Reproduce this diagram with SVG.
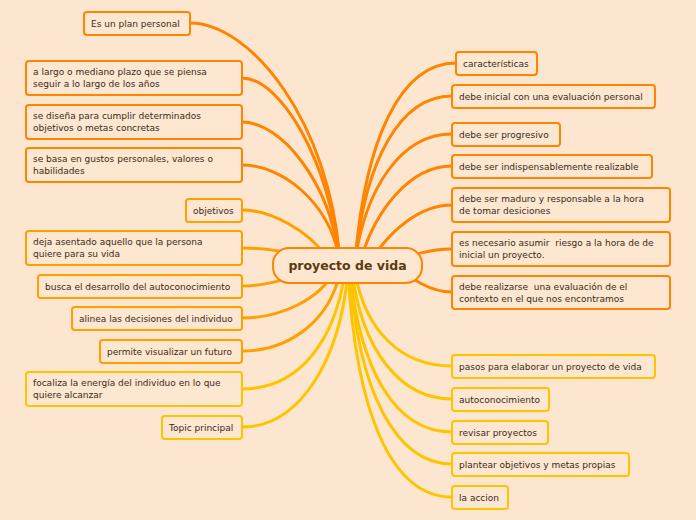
<svg xmlns="http://www.w3.org/2000/svg" width="696" height="520" viewBox="0 0 696 520">
<style>
text{font-family:"DejaVu Sans",Verdana,sans-serif;font-size:9px;fill:#3a2a1a}
.b{fill:#fde7d0;stroke-width:2}
.o{stroke:#ff8400}.m{stroke:#ffa000}.y{stroke:#ffc400}
path{fill:none;stroke-linecap:round}
</style>
<rect width="696" height="520" fill="#fde6cf"/>
<g id="connectors" stroke-width="3">
<path class="o" d="M190,23 C250,23 330,120 340,262"/>
<path class="o" d="M242,78 C280,78 330,160 340,262"/>
<path class="o" d="M242,122 C280,122 330,180 340,262"/>
<path class="o" d="M242,165 C280,165 330,200 340,262"/>
<path class="m" d="M242,210 C270,210 310,230 330,262"/>
<path class="m" d="M242,248 C270,248 300,255 320,262"/>
<path class="m" d="M242,286 C270,286 300,275 320,268"/>
<path class="m" d="M242,318 C280,318 320,300 335,270"/>
<path class="m" d="M242,351 C290,351 330,320 340,272"/>
<path class="y" d="M242,389 C300,389 335,340 345,272"/>
<path class="y" d="M242,427 C300,427 340,360 348,272"/>
<path class="o" d="M456,63 C400,63 365,140 355,262"/>
<path class="o" d="M452,96 C400,96 365,160 355,262"/>
<path class="o" d="M452,134 C400,134 365,190 355,262"/>
<path class="o" d="M452,166 C410,166 375,210 360,262"/>
<path class="o" d="M452,205 C420,205 390,230 370,262"/>
<path class="o" d="M452,249 C430,249 410,255 400,262"/>
<path class="o" d="M452,292 C430,292 410,278 400,268"/>
<path class="y" d="M452,366 C400,366 365,330 355,272"/>
<path class="y" d="M452,399 C400,399 362,350 352,272"/>
<path class="y" d="M452,432 C395,432 360,370 350,272"/>
<path class="y" d="M452,464 C395,464 358,390 350,272"/>
<path class="y" d="M452,497 C390,497 356,410 348,272"/>
</g>
<g id="center"><rect x="273" y="248" width="149" height="35" rx="16" fill="#fde7d0" stroke="#ff8400" stroke-width="2"/><text x="347.5" y="270" text-anchor="middle" style="font-size:12.5px;font-weight:bold;fill:#5a3a10">proyecto de vida</text></g>
<g id="l1"><rect class="b o" x="84" y="12" width="106" height="23" rx="3"/><text x="91" y="27">Es un plan personal</text></g>
<g id="l2"><rect class="b o" x="26" y="61" width="216" height="34" rx="3"/><text x="33" y="75">a largo o mediano plazo que se piensa</text><text x="33" y="87">seguir a lo largo de los años</text></g>
<g id="l3"><rect class="b o" x="26" y="105" width="216" height="34" rx="3"/><text x="33" y="119">se diseña para cumplir determinados</text><text x="33" y="131">objetivos o metas concretas</text></g>
<g id="l4"><rect class="b o" x="26" y="148" width="216" height="34" rx="3"/><text x="33" y="162">se basa en gustos personales, valores o</text><text x="33" y="174">habilidades</text></g>
<g id="l5"><rect class="b m" x="186" y="199" width="56" height="23" rx="3"/><text x="193" y="214">objetivos</text></g>
<g id="l6"><rect class="b m" x="26" y="231" width="216" height="34" rx="3"/><text x="33" y="245">deja asentado aquello que la persona</text><text x="33" y="257">quiere para su vida</text></g>
<g id="l7"><rect class="b m" x="38" y="275" width="204" height="23" rx="3"/><text x="45" y="290">busca el desarrollo del autoconocimiento</text></g>
<g id="l8"><rect class="b m" x="72" y="307" width="170" height="23" rx="3"/><text x="79" y="322">alinea las decisiones del individuo</text></g>
<g id="l9"><rect class="b m" x="100" y="340" width="142" height="23" rx="3"/><text x="107" y="355">permite visualizar un futuro</text></g>
<g id="l10"><rect class="b y" x="26" y="372" width="216" height="34" rx="3"/><text x="33" y="386">focaliza la energía del individuo en lo que</text><text x="33" y="398">quiere alcanzar</text></g>
<g id="l11"><rect class="b y" x="162" y="416" width="80" height="23" rx="3"/><text x="169" y="431">Topic principal</text></g>
<g id="r1"><rect class="b o" x="456" y="52" width="81" height="23" rx="3"/><text x="463" y="67">características</text></g>
<g id="r2"><rect class="b o" x="452" y="85" width="203" height="23" rx="3"/><text x="459" y="100">debe inicial con una evaluación personal</text></g>
<g id="r3"><rect class="b o" x="452" y="123" width="108" height="23" rx="3"/><text x="459" y="138">debe ser progresivo</text></g>
<g id="r4"><rect class="b o" x="452" y="155" width="200" height="23" rx="3"/><text x="459" y="170">debe ser indispensablemente realizable</text></g>
<g id="r5"><rect class="b o" x="452" y="188" width="218" height="34" rx="3"/><text x="459" y="202">debe ser maduro y responsable a la hora</text><text x="459" y="214">de tomar desiciones</text></g>
<g id="r6"><rect class="b o" x="452" y="232" width="218" height="34" rx="3"/><text x="459" y="246" xml:space="preserve">es necesario asumir  riesgo a la hora de de</text><text x="459" y="258">inicial un proyecto.</text></g>
<g id="r7"><rect class="b o" x="452" y="276" width="218" height="33" rx="3"/><text x="459" y="290" xml:space="preserve">debe realizarse  una evaluación de el</text><text x="459" y="302">contexto en el que nos encontramos</text></g>
<g id="r8"><rect class="b y" x="452" y="355" width="203" height="23" rx="3"/><text x="459" y="370">pasos para elaborar un proyecto de vida</text></g>
<g id="r9"><rect class="b y" x="452" y="388" width="97" height="23" rx="3"/><text x="459" y="403">autoconocimiento</text></g>
<g id="r10"><rect class="b y" x="452" y="421" width="96" height="23" rx="3"/><text x="459" y="436">revisar proyectos</text></g>
<g id="r11"><rect class="b y" x="452" y="453" width="177" height="23" rx="3"/><text x="459" y="468">plantear objetivos y metas propias</text></g>
<g id="r12"><rect class="b y" x="452" y="486" width="56" height="23" rx="3"/><text x="459" y="501">la accion</text></g>
</svg>
